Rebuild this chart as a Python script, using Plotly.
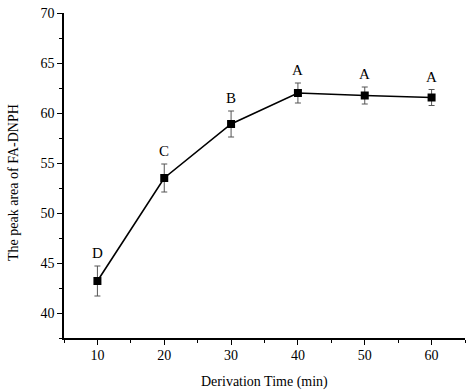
import plotly.graph_objects as go

times = [10, 20, 30, 40, 50, 60]
peak_area = [43.2, 53.5, 58.9, 62.0, 61.75, 61.55]
errors = [1.5, 1.4, 1.3, 1.0, 0.85, 0.8]
letters = ["D", "C", "B", "A", "A", "A"]
x_title = "Derivation Time (min)"
y_title = "The peak area of FA-DNPH"

FONT = "Liberation Serif"

fig = go.Figure()
fig.add_trace(go.Scatter(
    x=times, y=peak_area,
    mode="lines+markers",
    line=dict(color="black", width=1.6),
    marker=dict(symbol="square", size=8, color="black"),
    error_y=dict(type="data", array=errors, visible=True, color="#555555", thickness=1, width=3),
    showlegend=False,
))

for t, v, e, l in zip(times, peak_area, errors, letters):
    fig.add_annotation(x=t, y=v + e, text=l, showarrow=False, yanchor="bottom", yshift=3,
                       font=dict(family=FONT, size=15, color="black"))

# axis titles
fig.add_annotation(xref="paper", yref="paper", x=0.5, y=-0.135, text=x_title, showarrow=False,
                   xanchor="center", yanchor="middle", font=dict(family=FONT, size=14, color="black"))
fig.add_annotation(xref="paper", yref="paper", x=0, y=0.477, xshift=-50, text=y_title, showarrow=False,
                   textangle=-90, xanchor="center", yanchor="middle",
                   font=dict(family=FONT, size=14, color="black"))

axis_common = dict(
    showline=True, linecolor="black", linewidth=1.5,
    ticks="outside", ticklen=5, tickwidth=1.3, tickcolor="black",
    showgrid=False, zeroline=False, mirror=False, automargin=False,
    ticklabeloverflow="allow",
    tickfont=dict(family=FONT, size=14, color="black"),
)

fig.update_xaxes(
    range=[5, 65], tickvals=[10, 20, 30, 40, 50, 60],
    minor=dict(tickvals=[5, 15, 25, 35, 45, 55, 65], ticks="outside", ticklen=3, tickwidth=1.3, tickcolor="black"),
    ticklabelstandoff=-2,
    **axis_common,
)
fig.update_yaxes(
    range=[37.5, 70], tickvals=[40, 45, 50, 55, 60, 65, 70],
    minor=dict(tickvals=[37.5, 42.5, 47.5, 52.5, 57.5, 62.5, 67.5], ticks="outside", ticklen=3, tickwidth=1.3, tickcolor="black"),
    **axis_common,
)

fig.update_layout(
    width=474, height=392,
    margin=dict(l=64, r=9, t=13, b=54),
    plot_bgcolor="white", paper_bgcolor="white",
)

# remove the browser's default 8px body margin so the figure fills the window
fig.write_html("out.html", config={"displayModeBar": False},
               post_script="document.body.style.margin='0';")
